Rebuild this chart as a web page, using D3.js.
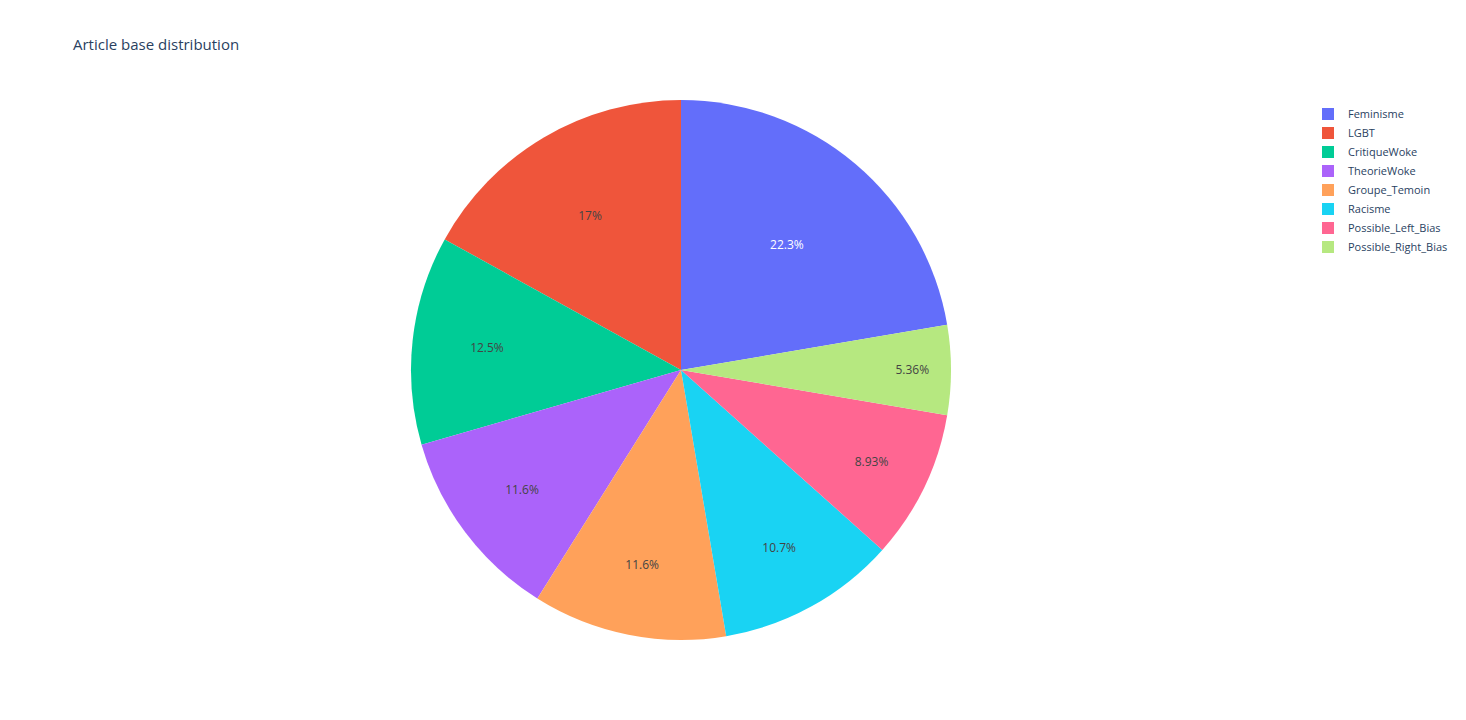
<!DOCTYPE html>
<html>
<head>
<meta charset="utf-8">
<script src="https://cdn.jsdelivr.net/npm/d3@7"></script>
<style>
  body { margin: 0; background: #fff; }
  svg text { font-family: "Open Sans", verdana, arial, sans-serif; }
</style>
</head>
<body>
<div id="chart"></div>
<script>
const categories = ['Feminisme', 'LGBT', 'CritiqueWoke', 'TheorieWoke', 'Groupe_Temoin', 'Racisme', 'Possible_Left_Bias', 'Possible_Right_Bias'];
const counts = [25, 19, 14, 13, 13, 12, 10, 6];
const colors = ['#636efa', '#EF553B', '#00cc96', '#ab63fa', '#FFA15A', '#19d3f3', '#FF6692', '#B6E880'];
const title = 'Article base distribution';

const width = 1466, height = 720;
const cx = 681, cy = 370, radius = 270;

const svg = d3.select('#chart').append('svg')
  .attr('width', width)
  .attr('height', height);

svg.append('text')
  .attr('x', 73)
  .attr('y', 50)
  .attr('fill', '#2a3f5f')
  .style('font-size', '15px')
  .text(title);

const data = categories.map((c, i) => ({ name: c, value: counts[i], color: colors[i] }));
const total = d3.sum(counts);

// first slice ends at 12 o'clock, the rest wind counterclockwise (plotly default)
const offset = 2 * Math.PI * counts[0] / total;
const pie = d3.pie()
  .sort(null)
  .value(d => d.value)
  .startAngle(offset)
  .endAngle(offset - 2 * Math.PI);

const arcs = pie(data);
const arc = d3.arc().innerRadius(0).outerRadius(radius);

const g = svg.append('g').attr('transform', `translate(${cx},${cy})`);

g.selectAll('path')
  .data(arcs)
  .enter()
  .append('path')
  .attr('d', d => arc({ startAngle: d.endAngle, endAngle: d.startAngle }))
  .attr('fill', d => d.data.color);

const fmt = v => d3.format('.3~r')(100 * v / total) + '%';

// text centre sits where the inscribed circle of the slice is
g.selectAll('text.lbl')
  .data(arcs)
  .enter()
  .append('text')
  .attr('class', 'lbl')
  .attr('text-anchor', 'middle')
  .attr('dy', '0.35em')
  .attr('transform', d => {
    const half = Math.abs(d.endAngle - d.startAngle) / 2;
    const mid = (d.startAngle + d.endAngle) / 2;
    const r = radius / (1 + Math.sin(half));
    return `translate(${r * Math.sin(mid)},${-r * Math.cos(mid)})`;
  })
  .attr('fill', (d, i) => i === 0 ? '#fff' : '#444')
  .style('font-size', '12px')
  .text(d => fmt(d.value));

const legend = svg.append('g').attr('transform', 'translate(1322,114)');
const items = legend.selectAll('g')
  .data(data)
  .enter()
  .append('g')
  .attr('transform', (d, i) => `translate(0,${i * 19})`);

items.append('rect')
  .attr('x', 0)
  .attr('y', -6)
  .attr('width', 12)
  .attr('height', 12)
  .attr('fill', d => d.color);

items.append('text')
  .attr('x', 26)
  .attr('dy', '0.35em')
  .attr('fill', '#2a3f5f')
  .style('font-size', '11px')
  .text(d => d.name);
</script>
</body>
</html>
